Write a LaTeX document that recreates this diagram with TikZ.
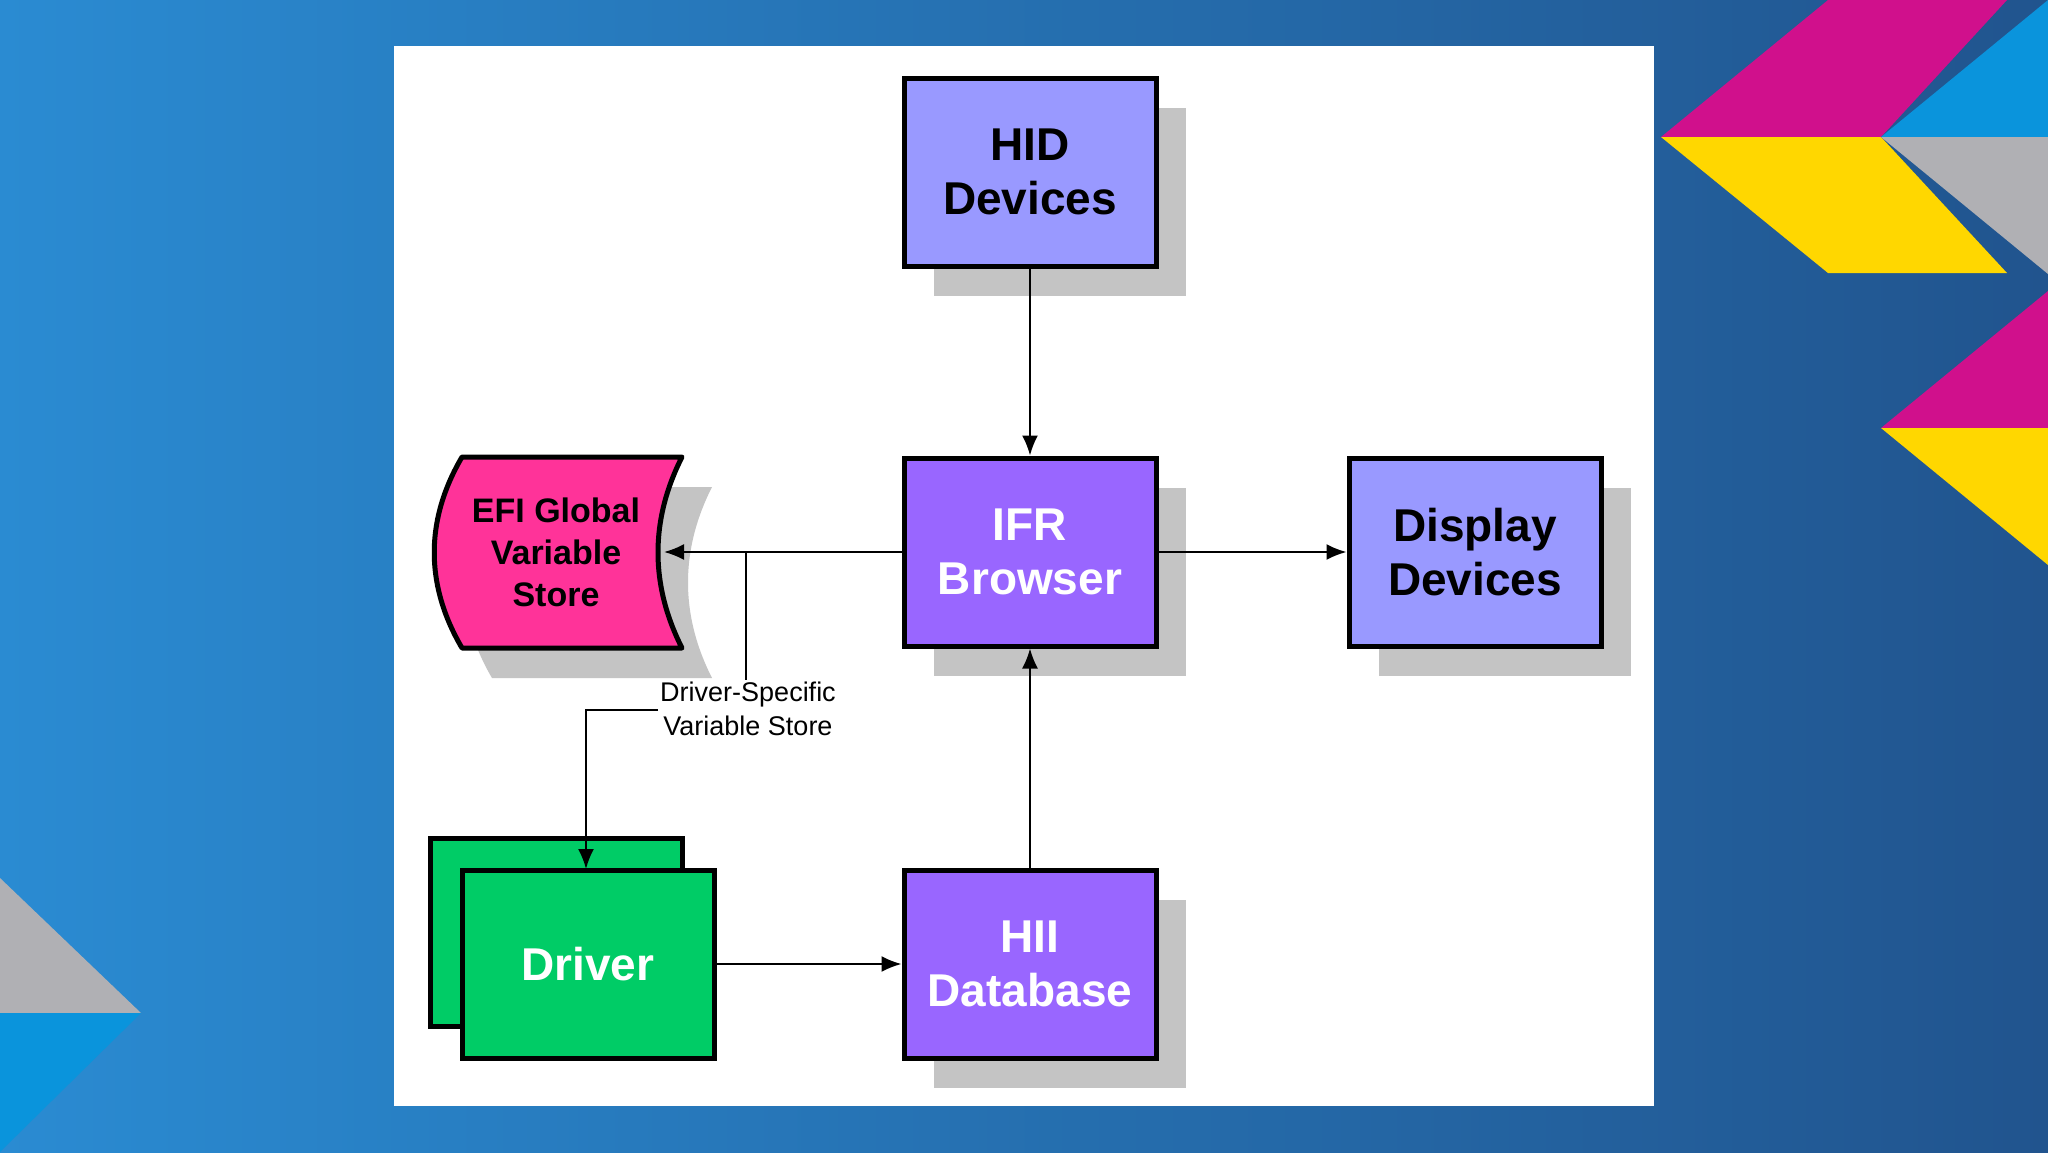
\documentclass[tikz,border=0pt]{standalone}
\usepackage{fontspec}
\setmainfont{Liberation Sans}
\usetikzlibrary{arrows.meta}
\definecolor{bgl}{HTML}{2A8BD2}
\definecolor{bgr}{HTML}{21548E}
\definecolor{mag}{HTML}{D0108C}
\definecolor{yel}{HTML}{FFD700}
\definecolor{sky}{HTML}{0A94DC}
\definecolor{gry}{HTML}{B0B0B4}
\definecolor{lav}{HTML}{9999FF}
\definecolor{pur}{HTML}{9966FF}
\definecolor{grn}{HTML}{00CC66}
\definecolor{pnk}{HTML}{FF3399}
\definecolor{shd}{HTML}{C4C4C4}
\begin{document}
\begin{tikzpicture}[x=1pt,y=-1pt,
  box/.style={draw=black,line width=5pt,minimum width=252pt,minimum height=188pt,align=center,font=\fontsize{46}{54}\selectfont\bfseries},
  shadow/.style={fill=shd},
  conn/.style={line width=2pt,-{Latex[length=20pt,width=16pt]}},
  lbl/.style={font=\fontsize{27}{34}\selectfont,align=center,fill=white,inner sep=2pt}]
\useasboundingbox (0,0) rectangle (2048,1152);
\shade[left color=bgl,right color=bgr] (0,0) rectangle (2048,1152);
% decorations
\fill[mag] (1661,137) -- (1828,0) -- (2007,0) -- (1881,137) -- cycle;
\fill[yel] (1661,137) -- (1881,137) -- (2007,273) -- (1828,273) -- cycle;
\fill[sky] (1881,137) -- (2048,0) -- (2048,137) -- cycle;
\fill[gry] (1881,137) -- (2048,137) -- (2048,274) -- cycle;
\fill[mag] (1881,428) -- (2048,291) -- (2048,428) -- cycle;
\fill[yel] (1881,428) -- (2048,428) -- (2048,565) -- cycle;
\fill[gry] (0,878) -- (141,1013) -- (0,1013) -- cycle;
\fill[sky] (0,1013) -- (141,1013) -- (0,1152) -- cycle;
% panel
\fill[white] (394,46) rectangle (1654,1106);
% shadows
\foreach \cx/\cy in {1030/172,1030/552,1475/552,1030/964}
  \fill[shd] (\cx-126+30,\cy-94+30) rectangle (\cx+126+30,\cy+94+30);
\fill[shd] (492,487) -- (712,487) .. controls (680,550) and (680,615) .. (712,678) -- (492,678) .. controls (455,615) and (455,550) .. (492,487) -- cycle;
% nodes
\node[box,fill=lav] (hid) at (1030,172) {HID\\Devices};
\node[box,fill=pur,text=white] (ifr) at (1030,552) {IFR\\Browser};
\node[box,fill=lav] (disp) at (1475,552) {Display\\Devices};
\node[box,fill=pur,text=white] (hii) at (1030,964) {HII\\Database};
\node[box,fill=grn] (drvb) at (556,932) {};
\node[box,fill=grn,text=white] (drv) at (588,964) {Driver};
\draw[line width=5pt,fill=pnk,line join=round] (462,457) -- (682,457) .. controls (650,520) and (650,585) .. (682,648) -- (462,648) .. controls (425,585) and (425,520) .. (462,457) -- cycle;
\node[font=\fontsize{34}{42}\selectfont\bfseries,align=center] (efi) at (556,552) {EFI Global\\Variable\\Store};
\coordinate (efir) at (664,552);
% connectors
\draw[conn] (hid) -- (ifr);
\draw[conn] (ifr) -- (disp);
\draw[conn] (hii) -- (ifr);
\draw[conn] (drv) -- (hii);
\draw[conn] (ifr.west) -- (efir);
\node[lbl] (ds) at (748,709) {Driver-Specific\\Variable Store};
\coordinate (br) at (746,552);
\draw[line width=2pt] (br) -- (ds.north -| br);
\draw[conn] (ds.west |- 0,710) -- (586,710) -- (586,869);
\end{tikzpicture}
\end{document}
